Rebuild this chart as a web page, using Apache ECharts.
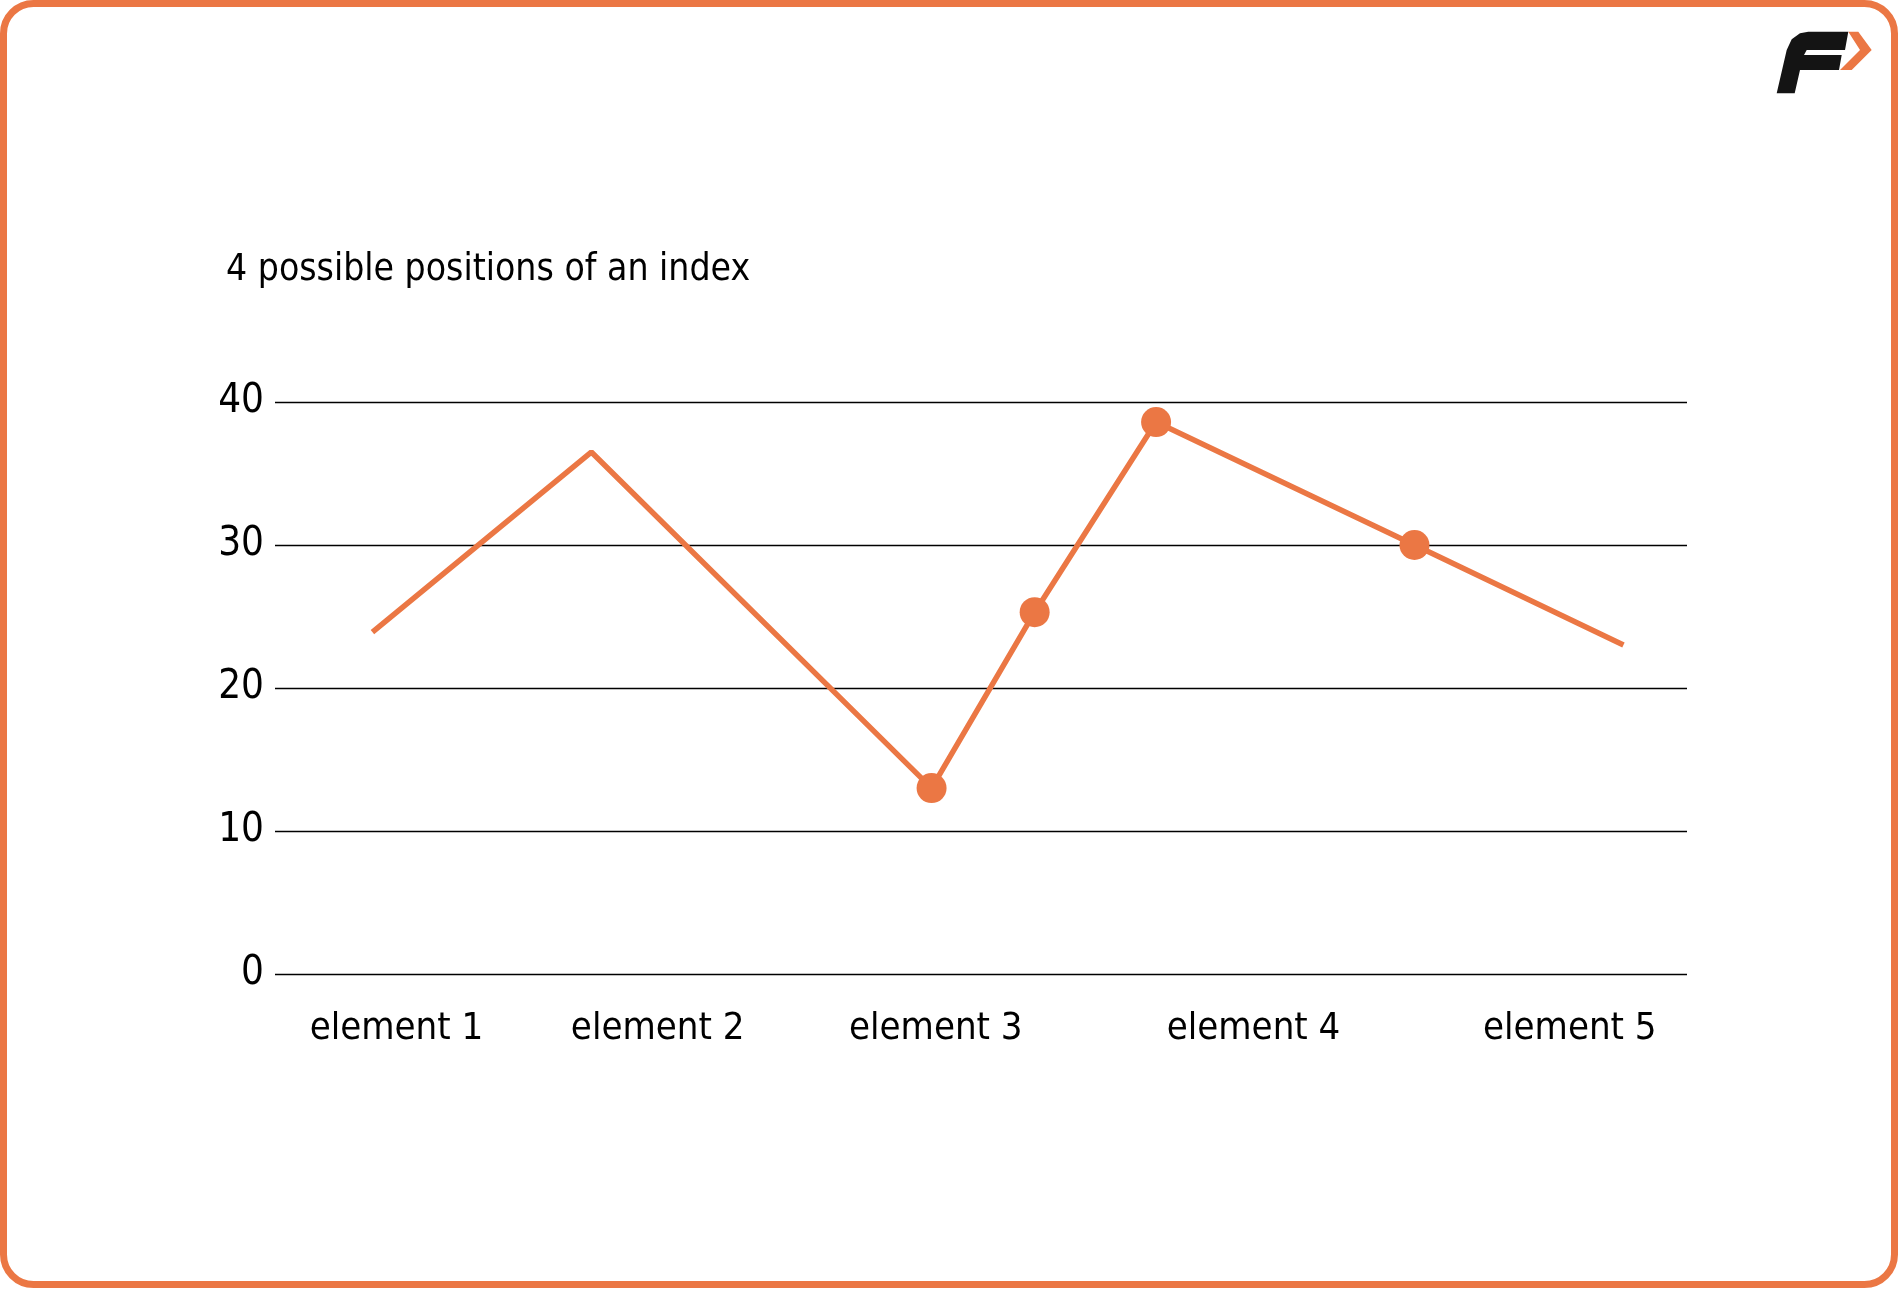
<!DOCTYPE html>
<html>
<head>
<meta charset="utf-8">
<script src="https://cdn.jsdelivr.net/npm/echarts@6/dist/echarts.min.js"></script>
<style>
  html, body { margin: 0; padding: 0; background: #fff; }
  #chart { width: 1898px; height: 1290px; }
</style>
</head>
<body>
<div id="chart"></div>
<script>
// ---- data ----
const titleText = '4 possible positions of an index';
const categories = ['element 1', 'element 2', 'element 3', 'element 4', 'element 5'];
// category label positions along the horizontal (0-100 scale)
const categoryPos = [8.6, 27.1, 46.8, 69.3, 91.7];
// line vertices: horizontal position (0-100 scale) and value
const pointX = [6.9, 22.4, 46.5, 53.8, 62.4, 80.7, 95.5];
const pointY = [23.9, 36.5, 13.0, 25.3, 38.6, 30.0, 23.0];
// indices of vertices that carry a marker
const markedPoints = [2, 3, 4, 5];
const yTicks = [0, 10, 20, 30, 40];

const ORANGE = '#EB7744';
const FONT = "'Liberation Sans Narrow', 'DejaVu Sans Condensed', 'Roboto', sans-serif";

const seriesData = pointX.map((x, i) => ({
  value: [x, pointY[i]],
  symbol: markedPoints.includes(i) ? 'circle' : 'none'
}));

const chart = echarts.init(document.getElementById('chart'));
chart.setOption({
  animation: false,
  backgroundColor: '#fff',
  title: {
    text: titleText,
    left: 221,
    top: 247,
    textStyle: { fontFamily: FONT, fontSize: 37, fontWeight: 'normal', color: '#000' }
  },
  grid: { left: 275, right: 211, top: 402, bottom: 316, containLabel: false },
  xAxis: {
    type: 'value',
    min: 0,
    max: 100,
    axisLine: { show: false },
    axisTick: { show: false },
    splitLine: { show: false },
    axisLabel: {
      customValues: categoryPos,
      formatter: (v) => {
        const i = categoryPos.indexOf(v);
        return i >= 0 ? categories[i] : '';
      },
      margin: 36,
      fontFamily: FONT,
      fontSize: 38,
      color: '#000'
    }
  },
  yAxis: {
    type: 'value',
    min: yTicks[0],
    max: yTicks[yTicks.length - 1],
    interval: 10,
    axisLine: { show: false },
    axisTick: { show: false },
    splitLine: { show: true, lineStyle: { color: '#000', width: 1.3 } },
    axisLabel: { margin: 11, fontFamily: FONT, fontSize: 40, color: '#000' }
  },
  series: [{
    type: 'line',
    data: seriesData,
    symbolSize: 30,
    showAllSymbol: true,
    lineStyle: { color: ORANGE, width: 5.5 },
    itemStyle: { color: ORANGE },
    z: 3
  }],
  graphic: [
    {
      type: 'rect',
      shape: { x: 3.5, y: 3.5, width: 1891, height: 1281, r: 30 },
      style: { fill: 'none', stroke: ORANGE, lineWidth: 7 },
      silent: true
    },
    {
      type: 'polygon',
      shape: { points: [[1776.7,93.3],[1786.7,50],[1791.7,39.3],[1800,33.3],[1808.3,31.7],[1848.3,31.7],[1845,50],[1806.7,50],[1804,55],[1841.7,55],[1839,70],[1800,70],[1794.7,93.3]] },
      style: { fill: '#141414' },
      silent: true
    },
    {
      type: 'polygon',
      shape: { points: [[1848.3,31.7],[1858.3,31.7],[1871.7,50],[1851.7,70],[1840,70],[1860,50]] },
      style: { fill: ORANGE },
      silent: true
    }
  ]
});
</script>
</body>
</html>
